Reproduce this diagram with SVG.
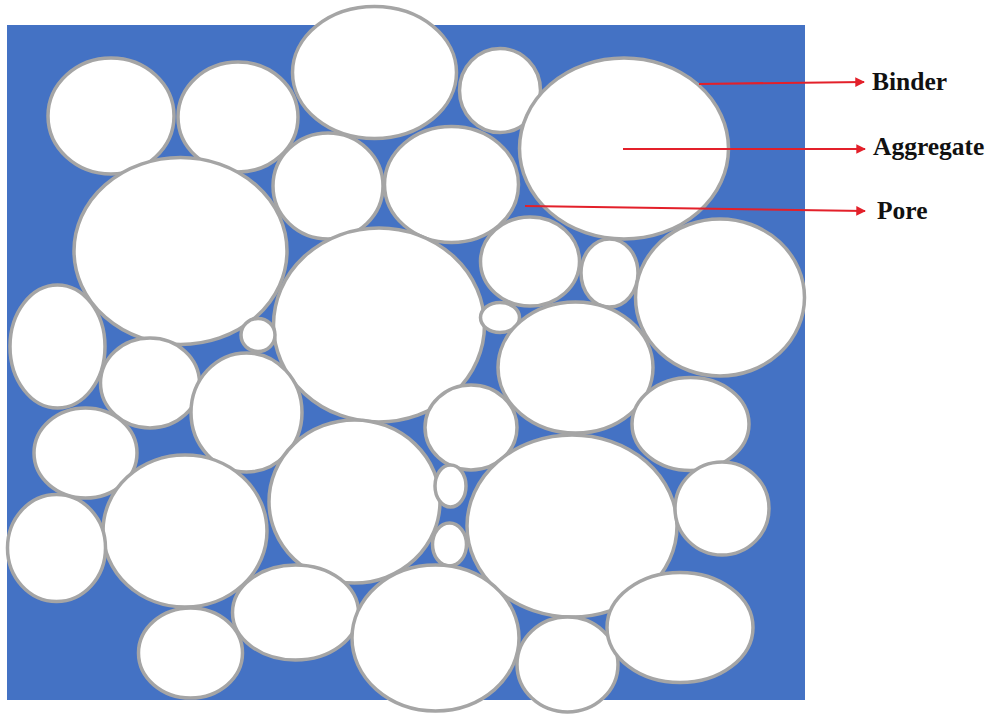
<svg xmlns="http://www.w3.org/2000/svg" width="991" height="717" viewBox="0 0 991 717">
  <defs>
    <style>
      .agg { fill: #ffffff; stroke: #a5a5a5; stroke-width: 3.5; }
      .lead { stroke: #e3202a; stroke-width: 2.2; fill: none; marker-end: url(#arrow); }
      .lbl { font-family: "Liberation Serif", "Times New Roman", serif; font-weight: bold; font-size: 25.5px; fill: #111111; }
    </style>
    <marker id="arrow" viewBox="0 0 10 10" refX="9" refY="5" markerWidth="5" markerHeight="4.4" markerUnits="strokeWidth" orient="auto">
      <path d="M0,0 L10,5 L0,10 Z" fill="#e3202a"/>
    </marker>
  </defs>
  <rect width="991" height="717" fill="#ffffff"/>
  <g id="binder">
    <rect x="7" y="25" width="798" height="675" fill="#4472c4"/>
  </g>
  <g id="aggregates">
    <ellipse class="agg" cx="111" cy="116" rx="63" ry="58"/>
    <ellipse class="agg" cx="238" cy="117" rx="60" ry="55"/>
    <ellipse class="agg" cx="374.5" cy="72.5" rx="82" ry="66"/>
    <ellipse class="agg" cx="500" cy="90.5" rx="40.5" ry="42"/>
    <ellipse class="agg" cx="624" cy="148.5" rx="104.5" ry="90.5"/>
    <ellipse class="agg" cx="180.5" cy="251" rx="106.5" ry="93.5"/>
    <ellipse class="agg" cx="328" cy="186" rx="55" ry="53"/>
    <ellipse class="agg" cx="451.5" cy="184.5" rx="67" ry="58"/>
    <ellipse class="agg" cx="530" cy="261.5" rx="49.5" ry="44.5"/>
    <ellipse class="agg" cx="609.5" cy="273" rx="28.5" ry="34"/>
    <ellipse class="agg" cx="720" cy="297.5" rx="84.5" ry="78.5"/>
    <ellipse class="agg" cx="379" cy="325" rx="105.5" ry="97"/>
    <ellipse class="agg" cx="258" cy="335" rx="17" ry="16.5"/>
    <ellipse class="agg" cx="500" cy="317.5" rx="19.5" ry="15"/>
    <ellipse class="agg" cx="57.5" cy="346.5" rx="47.5" ry="61.5"/>
    <ellipse class="agg" cx="150" cy="383" rx="49.5" ry="45"/>
    <ellipse class="agg" cx="246.5" cy="412.5" rx="55.5" ry="59.5"/>
    <ellipse class="agg" cx="575.5" cy="367.5" rx="77.5" ry="65.5"/>
    <ellipse class="agg" cx="471" cy="427.5" rx="46" ry="42.5"/>
    <ellipse class="agg" cx="690.5" cy="424" rx="58.5" ry="46.5"/>
    <ellipse class="agg" cx="85.5" cy="453" rx="51.5" ry="45"/>
    <ellipse class="agg" cx="185" cy="531" rx="82" ry="76"/>
    <ellipse class="agg" cx="56.5" cy="548" rx="49" ry="53.5"/>
    <ellipse class="agg" cx="354.5" cy="501.5" rx="85.5" ry="81.5"/>
    <ellipse class="agg" cx="450.5" cy="486" rx="15.5" ry="21"/>
    <ellipse class="agg" cx="449.5" cy="544.5" rx="17" ry="21.5"/>
    <ellipse class="agg" cx="572" cy="526" rx="105" ry="91"/>
    <ellipse class="agg" cx="722" cy="508.5" rx="47" ry="46.5"/>
    <ellipse class="agg" cx="295.5" cy="612.5" rx="63" ry="47.5"/>
    <ellipse class="agg" cx="190.5" cy="653" rx="52" ry="45"/>
    <ellipse class="agg" cx="435.5" cy="638" rx="83.5" ry="73"/>
    <ellipse class="agg" cx="567.5" cy="664.5" rx="50.5" ry="47.5"/>
    <ellipse class="agg" cx="680" cy="627.5" rx="73" ry="55"/>
  </g>
  <g id="connectors">
    <line class="lead" x1="699" y1="84" x2="864" y2="82"/>
    <line class="lead" x1="623" y1="149" x2="865" y2="149"/>
    <line class="lead" x1="525" y1="206" x2="865" y2="211"/>
  </g>
  <g id="label-binder"><text class="lbl" x="872" y="90">Binder</text></g>
  <g id="label-aggregate"><text class="lbl" x="873" y="155">Aggregate</text></g>
  <g id="label-pore"><text class="lbl" x="877" y="219">Pore</text></g>
</svg>
